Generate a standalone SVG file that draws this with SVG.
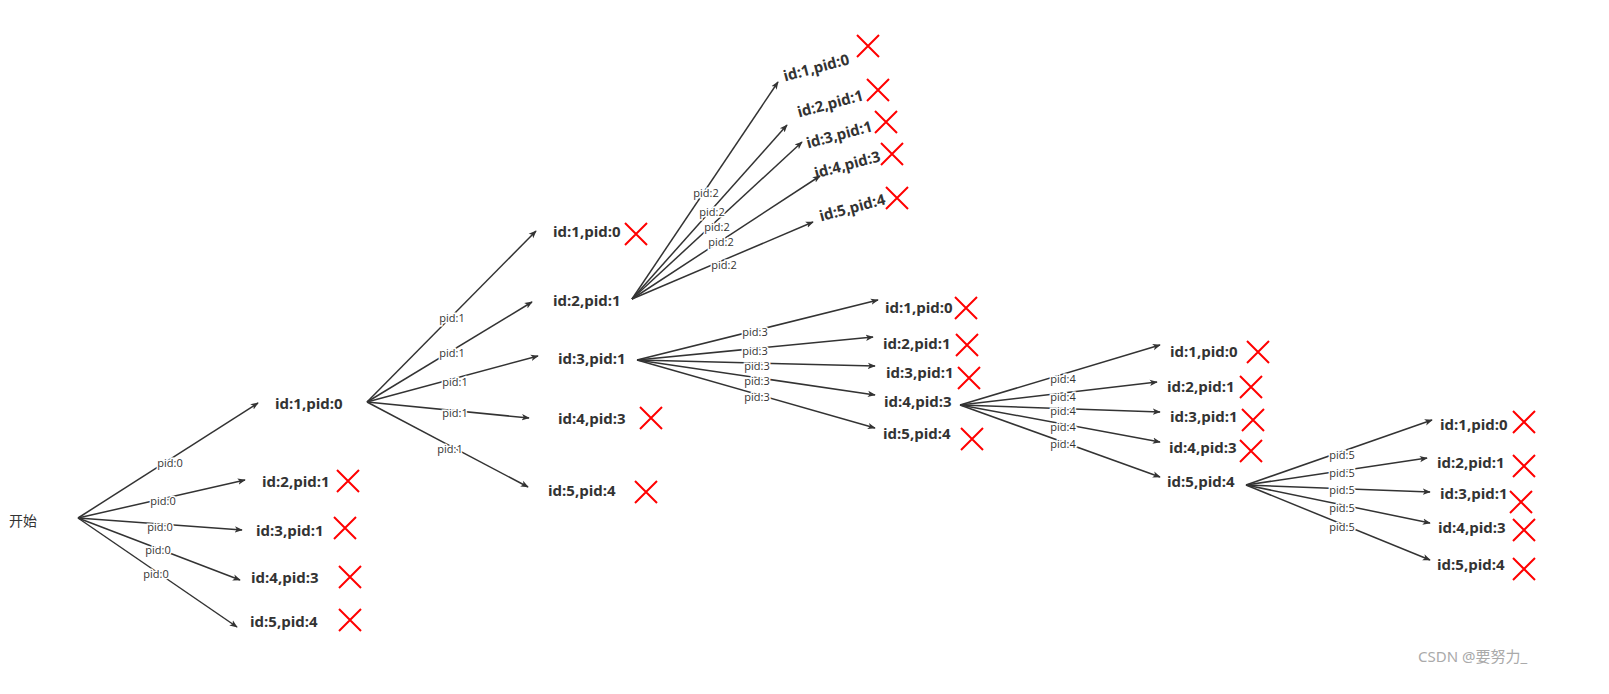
<svg xmlns="http://www.w3.org/2000/svg" width="1609" height="694" viewBox="0 0 1609 694">
<style>
.n{font-family:"Open Sans","Noto Sans",sans-serif;font-weight:bold;font-size:15px;fill:#333;dominant-baseline:central}
.e{font-family:"Open Sans","Noto Sans",sans-serif;font-size:11px;fill:#333;text-anchor:middle;dominant-baseline:central;stroke:#fff;stroke-width:3px;paint-order:stroke}
.c line{stroke:#333;stroke-width:1.5;marker-end:url(#a)}
.x{stroke:#f00;stroke-width:2;fill:none}
</style>
<defs>
<marker id="a" viewBox="0 0 10 10" refX="9" refY="5" markerWidth="8" markerHeight="8" orient="auto" markerUnits="userSpaceOnUse"><path d="M0,1 L10,5 L0,9 L2.5,5 z" fill="#333"/></marker>
<g id="xx"><path class="x" d="M-11,-11 L11,11 M11,-11 L-11,11"/></g>
</defs>
<g class="c">
<line x1="78" y1="518" x2="258" y2="403"/><line x1="78" y1="518" x2="245" y2="480"/><line x1="78" y1="518" x2="242" y2="530"/><line x1="78" y1="518" x2="240" y2="580"/><line x1="78" y1="518" x2="237" y2="627"/>
<line x1="367" y1="402" x2="536" y2="231"/><line x1="367" y1="402" x2="532" y2="302"/><line x1="367" y1="402" x2="538" y2="356"/><line x1="367" y1="402" x2="529" y2="418"/><line x1="367" y1="402" x2="528" y2="487"/>
<line x1="632" y1="299" x2="778" y2="82"/><line x1="632" y1="299" x2="787" y2="125"/><line x1="632" y1="299" x2="802" y2="142"/><line x1="632" y1="299" x2="820" y2="176"/><line x1="632" y1="299" x2="813" y2="222"/>
<line x1="637" y1="360" x2="878" y2="300"/><line x1="637" y1="360" x2="873" y2="337"/><line x1="637" y1="360" x2="875" y2="366"/><line x1="637" y1="360" x2="875" y2="395"/><line x1="637" y1="360" x2="875" y2="428"/>
<line x1="960" y1="405" x2="1160" y2="345"/><line x1="960" y1="405" x2="1157" y2="382"/><line x1="960" y1="405" x2="1160" y2="412"/><line x1="960" y1="405" x2="1160" y2="442"/><line x1="960" y1="405" x2="1160" y2="477"/>
<line x1="1246" y1="485" x2="1432" y2="420"/><line x1="1246" y1="485" x2="1427" y2="458"/><line x1="1246" y1="485" x2="1430" y2="492"/><line x1="1246" y1="485" x2="1430" y2="523"/><line x1="1246" y1="485" x2="1430" y2="560"/>
<text class="e" x="170" y="462">pid:0</text><text class="e" x="163" y="500">pid:0</text><text class="e" x="160" y="526">pid:0</text><text class="e" x="158" y="549">pid:0</text><text class="e" x="156" y="573">pid:0</text>
<text class="e" x="452" y="317">pid:1</text><text class="e" x="452" y="352">pid:1</text><text class="e" x="455" y="381">pid:1</text><text class="e" x="455" y="412">pid:1</text><text class="e" x="450" y="448">pid:1</text>
<text class="e" x="706" y="192">pid:2</text><text class="e" x="712" y="211">pid:2</text><text class="e" x="717" y="226">pid:2</text><text class="e" x="721" y="241">pid:2</text><text class="e" x="724" y="264">pid:2</text>
<text class="e" x="755" y="331">pid:3</text><text class="e" x="755" y="350">pid:3</text><text class="e" x="757" y="365">pid:3</text><text class="e" x="757" y="380">pid:3</text><text class="e" x="757" y="396">pid:3</text>
<text class="e" x="1063" y="378">pid:4</text><text class="e" x="1063" y="396">pid:4</text><text class="e" x="1063" y="410">pid:4</text><text class="e" x="1063" y="426">pid:4</text><text class="e" x="1063" y="443">pid:4</text>
<text class="e" x="1342" y="454">pid:5</text><text class="e" x="1342" y="472">pid:5</text><text class="e" x="1342" y="489">pid:5</text><text class="e" x="1342" y="507">pid:5</text><text class="e" x="1342" y="526">pid:5</text>
</g>
<g id="start"><text class="n" x="9" y="520" style="font-weight:normal;font-family:'Noto Sans CJK SC',sans-serif;font-size:14px">开始</text></g>
<g id="l1">
<text class="n" x="275" y="403">id:1,pid:0</text>
<text class="n" x="262" y="481">id:2,pid:1</text><use href="#xx" x="348" y="481"/>
<text class="n" x="256" y="530">id:3,pid:1</text><use href="#xx" x="345" y="528"/>
<text class="n" x="251" y="577">id:4,pid:3</text><use href="#xx" x="350" y="577"/>
<text class="n" x="250" y="621">id:5,pid:4</text><use href="#xx" x="350" y="620"/>
</g>
<g id="l2">
<text class="n" x="553" y="231">id:1,pid:0</text><use href="#xx" x="636" y="234"/>
<text class="n" x="553" y="300">id:2,pid:1</text>
<text class="n" x="558" y="358">id:3,pid:1</text>
<text class="n" x="558" y="418">id:4,pid:3</text><use href="#xx" x="651" y="418"/>
<text class="n" x="548" y="490">id:5,pid:4</text><use href="#xx" x="646" y="492"/>
</g>
<g id="l3a">
<text class="n" text-anchor="middle" transform="translate(816,67) rotate(-15)">id:1,pid:0</text><use href="#xx" x="868" y="46"/>
<text class="n" text-anchor="middle" transform="translate(830,103) rotate(-15)">id:2,pid:1</text><use href="#xx" x="878" y="90"/>
<text class="n" text-anchor="middle" transform="translate(839,134) rotate(-15)">id:3,pid:1</text><use href="#xx" x="886" y="122"/>
<text class="n" text-anchor="middle" transform="translate(847,164) rotate(-15)">id:4,pid:3</text><use href="#xx" x="892" y="154"/>
<text class="n" text-anchor="middle" transform="translate(852,207) rotate(-15)">id:5,pid:4</text><use href="#xx" x="897" y="198"/>
</g>
<g id="l3b">
<text class="n" x="885" y="307">id:1,pid:0</text><use href="#xx" x="966" y="308"/>
<text class="n" x="883" y="343">id:2,pid:1</text><use href="#xx" x="967" y="345"/>
<text class="n" x="886" y="372">id:3,pid:1</text><use href="#xx" x="969" y="378"/>
<text class="n" x="884" y="401">id:4,pid:3</text>
<text class="n" x="883" y="433">id:5,pid:4</text><use href="#xx" x="972" y="439"/>
</g>
<g id="l4">
<text class="n" x="1170" y="351">id:1,pid:0</text><use href="#xx" x="1258" y="352"/>
<text class="n" x="1167" y="386">id:2,pid:1</text><use href="#xx" x="1251" y="387"/>
<text class="n" x="1170" y="416">id:3,pid:1</text><use href="#xx" x="1253" y="420"/>
<text class="n" x="1169" y="447">id:4,pid:3</text><use href="#xx" x="1251" y="451"/>
<text class="n" x="1167" y="481">id:5,pid:4</text>
</g>
<g id="l5">
<text class="n" x="1440" y="424">id:1,pid:0</text><use href="#xx" x="1524" y="422"/>
<text class="n" x="1437" y="462">id:2,pid:1</text><use href="#xx" x="1524" y="466"/>
<text class="n" x="1440" y="493">id:3,pid:1</text><use href="#xx" x="1521" y="502"/>
<text class="n" x="1438" y="527">id:4,pid:3</text><use href="#xx" x="1524" y="530"/>
<text class="n" x="1437" y="564">id:5,pid:4</text><use href="#xx" x="1524" y="569"/>
</g>
<text x="1418" y="662" style="font-family:'Noto Sans','Noto Sans CJK SC',sans-serif;font-size:15px;fill:#aaa">CSDN @要努力_</text>
</svg>
